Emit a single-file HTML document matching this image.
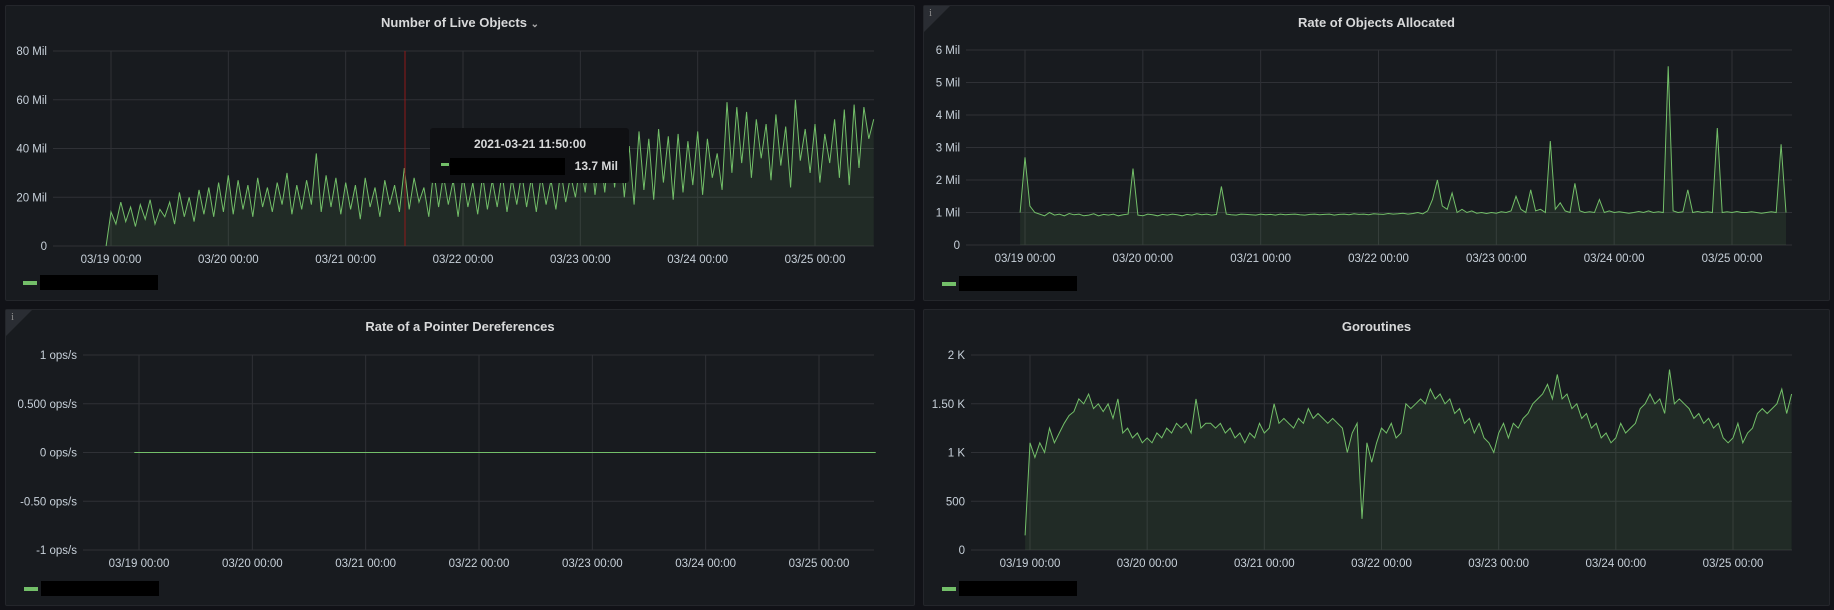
<!DOCTYPE html>
<html><head><meta charset="utf-8">
<style>
body{margin:0;width:1834px;height:610px;background:#111217;overflow:hidden;font-family:"Liberation Sans",sans-serif;}
.panel{position:absolute;background:#181b1f;border:1px solid #24262b;border-radius:2px;box-sizing:border-box;}
.title{position:absolute;left:0;right:0;text-align:center;color:#d8d9da;font-size:13px;font-weight:bold;}
svg{position:absolute;left:0;top:0;}
.info{position:absolute;width:0;height:0;border-top:26px solid #2a2d33;border-right:26px solid transparent;}
.info span{position:absolute;left:5px;top:-25px;color:#888;font-size:11px;font-family:"Liberation Serif",serif;}
</style></head><body>
<div class="panel" style="left:5px;top:5px;width:910px;height:296px;">
 <div class="title" style="top:9px;">Number of Live Objects <span style="font-size:10px;color:#aaa">⌄</span></div>
</div>
<div class="panel" style="left:923px;top:5px;width:907px;height:296px;">
 <div class="info"><span>i</span></div>
 <div class="title" style="top:9px;">Rate of Objects Allocated</div>
</div>
<div class="panel" style="left:5px;top:309px;width:910px;height:297px;">
 <div class="info"><span>i</span></div>
 <div class="title" style="top:9px;">Rate of a Pointer Dereferences</div>
</div>
<div class="panel" style="left:923px;top:309px;width:907px;height:297px;">
 <div class="title" style="top:9px;">Goroutines</div>
</div>
<svg id="chart" width="1834" height="610"></svg>
<script>
const xTickLabels=["03/19 00:00","03/20 00:00","03/21 00:00","03/22 00:00","03/23 00:00","03/24 00:00","03/25 00:00"];
const xTickHours=[0,24,48,72,96,120,144];
const startHour=-1;
const liveObjects=[0,14,9,18,10,16,8,17,11,19,9,15,12,18,9,22,12,20,10,23,13,24,12,26,14,29,13,27,15,25,12,28,16,24,14,26,17,30,13,25,15,27,17,38,14,29,16,28,13,26,15,25,11,28,16,24,12,27,17,25,14,32,15,28,18,24,12,31,16,29,17,27,12,29,16,26,13,29,15,27,16,30,14,28,17,30,16,28,14,29,17,27,15,31,18,29,20,34,22,43,21,39,22,46,24,44,20,41,17,47,23,44,19,48,26,45,19,46,22,43,25,47,21,44,28,38,23,59,30,57,34,55,28,52,36,50,27,54,33,49,24,60,35,48,30,50,26,46,34,52,28,56,25,58,32,57,44,52];
const liveTicks=[0,20,40,60,80];
const liveTickLabels=["0","20 Mil","40 Mil","60 Mil","80 Mil"];
const allocRate=[1.0,2.7,1.2,1.0,0.95,0.9,1.0,0.92,0.95,0.9,0.97,0.93,0.95,0.9,0.92,0.96,0.9,0.94,0.92,0.95,0.9,0.93,0.95,2.35,0.92,0.9,0.95,0.93,0.9,0.94,0.92,0.95,0.93,0.9,0.94,0.92,0.96,0.93,0.95,0.92,0.94,1.8,0.95,0.93,0.92,0.95,0.94,0.93,0.92,0.95,0.93,0.94,0.92,0.95,0.93,0.94,0.95,0.93,0.92,0.94,0.95,0.93,0.94,0.95,0.92,0.94,0.95,0.93,0.96,0.94,0.95,0.93,0.96,0.95,0.94,0.97,0.95,0.96,0.98,0.95,0.97,1.0,0.96,1.05,1.4,2.0,1.2,1.1,1.6,1.0,1.1,1.0,1.05,0.98,1.0,0.97,1.0,0.98,1.02,1.0,1.05,1.5,1.1,1.0,1.7,1.05,1.1,1.0,3.2,1.1,1.3,1.05,1.0,1.9,1.05,1.0,1.02,1.0,1.4,1.0,1.05,1.0,1.02,1.0,0.98,1.0,1.03,1.0,1.05,1.0,1.02,1.0,5.5,1.05,1.0,1.02,1.7,1.0,1.03,1.0,1.02,1.0,3.6,1.0,1.02,1.0,1.03,1.0,1.0,1.02,1.0,0.98,1.0,1.02,1.0,3.1,1.0];
const allocTicks=[0,1,2,3,4,5,6];
const allocTickLabels=["0","1 Mil","2 Mil","3 Mil","4 Mil","5 Mil","6 Mil"];
const derefRate=[0,0,0,0,0,0,0,0,0,0,0,0,0,0,0,0,0,0,0,0,0,0,0,0,0,0,0,0,0,0,0,0,0,0,0,0,0,0,0,0,0,0,0,0,0,0,0,0,0,0,0,0,0,0,0,0,0,0,0,0,0,0,0,0,0,0,0,0,0,0,0,0,0,0,0,0,0,0,0,0,0,0,0,0,0,0,0,0,0,0,0,0,0,0,0,0,0,0,0,0,0,0,0,0,0,0,0,0,0,0,0,0,0,0,0,0,0,0,0,0,0,0,0,0,0,0,0,0,0,0,0,0,0,0,0,0,0,0,0,0,0,0,0,0,0,0,0,0,0,0,0,0,0,0,0,0,0,0];
const derefTicks=[-1,-0.5,0,0.5,1];
const derefTickLabels=["-1 ops/s","-0.50 ops/s","0 ops/s","0.500 ops/s","1 ops/s"];
const goroutines=[0.15,1.1,0.95,1.1,1.0,1.25,1.1,1.2,1.3,1.38,1.42,1.55,1.5,1.6,1.45,1.5,1.42,1.5,1.35,1.55,1.2,1.25,1.15,1.2,1.1,1.15,1.1,1.2,1.15,1.25,1.2,1.3,1.25,1.3,1.2,1.55,1.25,1.3,1.3,1.25,1.3,1.2,1.25,1.15,1.2,1.1,1.2,1.15,1.3,1.2,1.25,1.5,1.3,1.35,1.3,1.25,1.35,1.3,1.45,1.35,1.4,1.35,1.3,1.35,1.3,1.25,1.0,1.2,1.3,0.32,1.1,0.9,1.1,1.25,1.2,1.3,1.15,1.2,1.5,1.45,1.5,1.55,1.5,1.65,1.55,1.6,1.5,1.55,1.4,1.45,1.3,1.35,1.2,1.3,1.15,1.1,1.0,1.2,1.3,1.15,1.3,1.25,1.35,1.4,1.5,1.55,1.6,1.7,1.55,1.8,1.55,1.6,1.45,1.5,1.35,1.4,1.25,1.3,1.15,1.2,1.1,1.15,1.3,1.2,1.25,1.3,1.45,1.5,1.6,1.5,1.55,1.4,1.85,1.5,1.55,1.5,1.45,1.35,1.4,1.3,1.35,1.25,1.3,1.15,1.1,1.15,1.3,1.1,1.2,1.25,1.4,1.45,1.4,1.45,1.5,1.65,1.4,1.6];
const goTicks=[0,0.5,1,1.5,2];
const goTickLabels=["0","500","1 K","1.50 K","2 K"];

const NS="http://www.w3.org/2000/svg";
const svg=document.getElementById('chart');
function mk(tag,attrs,parent){const e=document.createElementNS(NS,tag);for(const k in attrs)e.setAttribute(k,attrs[k]);(parent||svg).appendChild(e);return e;}

function drawPanel(name,g,values,yTicks,yLabels,fill){
  const grp=mk('g',{});
  
  
  const ymin=yTicks[0],ymax=yTicks[yTicks.length-1];
  const xs=h=>g.x0+h*(g.x6-g.x0)/144;
  const ys=v=>g.bottom-(v-ymin)/(ymax-ymin)*(g.bottom-g.top);
  yTicks.forEach((t,i)=>{
    const l=mk('line',{x1:g.left,x2:g.right,y1:ys(t),y2:ys(t),stroke:'#2f3136','stroke-width':1},grp);
    
    
    const tx=mk('text',{x:g.left-6,y:ys(t)+4,'text-anchor':'end',fill:'#c7d0d9','font-size':11.5},grp);
    tx.textContent=yLabels[i];
    
    
  });
  xTickHours.forEach((h,i)=>{
    const l=mk('line',{x1:xs(h),x2:xs(h),y1:g.top,y2:g.bottom,stroke:'#2f3136','stroke-width':1},grp);
    
    
    const tx=mk('text',{x:xs(h),y:g.bottom+17,'text-anchor':'middle',fill:'#c7d0d9','font-size':11.5},grp);
    tx.textContent=xTickLabels[i];
    
    
  });
  let d='';
  values.forEach((v,i)=>{d+=(i?'L':'M')+xs(startHour+i).toFixed(1)+','+ys(v).toFixed(1);});
  if(fill){
    const base=ys(Math.max(ymin,0));
    const a=mk('path',{d:d+'L'+xs(startHour+values.length-1)+','+base+'L'+xs(startHour)+','+base+'Z',fill:'rgba(115,191,105,0.1)'},grp);
    
    
  }
  const p=mk('path',{d:d,fill:'none',stroke:'#73bf69','stroke-width':1},grp);
  
  
  const sw=mk('rect',{x:g.lx,y:g.ly+6,width:14,height:4,fill:'#73bf69'},grp);
  
  
  const bx=mk('rect',{x:g.lx+17,y:g.ly,width:118,height:15,fill:'#000'},grp);
  
  
}
drawPanel('live-objects',{left:53,right:874,top:51,bottom:246,x0:111,x6:815,lx:23,ly:275},liveObjects,liveTicks,liveTickLabels,true);
drawPanel('objects-allocated',{left:966,right:1792,top:50,bottom:245,x0:1025,x6:1732,lx:942,ly:276},allocRate,allocTicks,allocTickLabels,true);
drawPanel('pointer-dereferences',{left:83,right:874,top:355,bottom:550,x0:139,x6:819,lx:24,ly:581},derefRate,derefTicks,derefTickLabels,false);
drawPanel('goroutines',{left:971,right:1792,top:355,bottom:550,x0:1030,x6:1733,lx:942,ly:581},goroutines,goTicks,goTickLabels,true);

const cl=mk('line',{x1:405,x2:405,y1:51,y2:246,stroke:'#8e1a1a','stroke-width':1});


const tt=mk('g',{});


mk('rect',{x:430,y:128,width:199,height:55,rx:3,fill:'#0f1013'},tt);
const t1=mk('text',{x:530,y:148,'text-anchor':'middle',fill:'#d8d9da','font-size':12,'font-weight':'bold'},tt);
t1.textContent='2021-03-21 11:50:00';
mk('rect',{x:441,y:163,width:8,height:3,fill:'#73bf69'},tt);
mk('rect',{x:450,y:158,width:115,height:17,fill:'#000'},tt);
const t2=mk('text',{x:618,y:170,'text-anchor':'end',fill:'#d8d9da','font-size':12,'font-weight':'bold'},tt);
t2.textContent='13.7 Mil';
</script>
</body></html>
